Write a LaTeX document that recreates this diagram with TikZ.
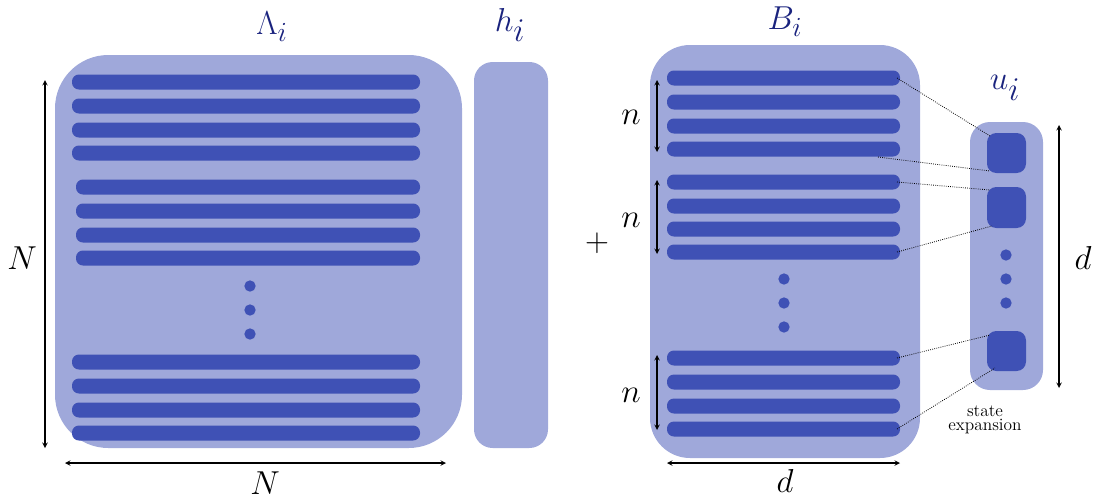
\documentclass[tikz,border=0pt]{standalone}
\begin{document}
\begin{tikzpicture}[x=0.75pt,y=-0.75pt]
\definecolor{lt}{HTML}{9FA8DA}\definecolor{dk}{HTML}{3F51B5}\definecolor{nv}{HTML}{1A237E}
\tikzset{bar/.style={fill=dk,rounded corners=5.2},dt/.style={fill=dk,circle,inner sep=0,minimum size=8.5pt},
 lab/.style={text=nv,font=\fontsize{30}{30}\selectfont},big/.style={font=\fontsize{29}{29}\selectfont},
 arr/.style={<->,>=stealth,thick},
 dl/.style={densely dotted,semithick},sq/.style={fill=dk,rounded corners=7}}
\useasboundingbox (0,0) rectangle (1096,501);
% Lambda
\fill[lt,rounded corners=40] (55,55) rectangle (462,448);
\foreach \y in {82,106,130,153,362,386,410,433}{\fill[bar] (72,\y-7.5) rectangle (420,\y+7.5);}
\foreach \y in {187,211,235,258}{\fill[bar] (76,\y-7.5) rectangle (420,\y+7.5);}
\foreach \y/\n in {286/a,310/b,334/c}{\node[dt] (l\n) at (250,\y) {};}
\node[lab] (lam) at (272,27) {$\Lambda_i$};
% h
\fill[lt,rounded corners=14] (474,62) rectangle (548,448);
\node[lab,font=\fontsize{40}{40}\selectfont] (h) at (510,25) {$h_i$};
\node[font=\fontsize{38}{38}\selectfont] (plus) at (597,243) {$+$};
% N arrows
\coordinate (n1) at (45,80); \coordinate (n2) at (45,448);
\draw[arr] (n1) -- (n2); \node[big] (NL) at (22,258) {$N$};
\coordinate (n3) at (65,463); \coordinate (n4) at (446,463);
\draw[arr] (n3) -- (n4); \node[big] (NB) at (265,483) {$N$};
% B
\fill[lt,rounded corners=30] (650,45) rectangle (920,458);
\foreach \y [count=\i] in {78,102,126,149,182,206,229,252,358,382,406,429}{\fill[bar] (667,\y-7.5) rectangle (900,\y+7.5); \coordinate (b\i) at (897,\y);}
\foreach \y/\n in {279/a,303/b,327/c}{\node[dt] (bd\n) at (784,\y) {};}
\node[lab] (B) at (785,22) {$B_i$};
\foreach \a/\b/\ly [count=\k] in {80/152/117,180/254/220,355/430/395}{
 \coordinate (na\k) at (657,\a); \coordinate (nb\k) at (657,\b);
 \draw[arr] (na\k) -- (nb\k); \node[big] (nl\k) at (631,\ly) {$n$};}
% u
\fill[lt,rounded corners=15] (970,122) rectangle (1043,390);
\fill[sq] (987,133) rectangle (1026,173); \fill[sq] (987,187) rectangle (1026,228); \fill[sq] (987,331) rectangle (1026,371);
\foreach \y/\n in {255/a,279/b,303/c}{\node[dt] (ud\n) at (1006,\y) {};}
\node[lab,font=\fontsize{36}{36}\selectfont] (u) at (1005,88) {$u_i$};
\coordinate (d1) at (1059,125); \coordinate (d2) at (1059,388);
\draw[arr] (d1) -- (d2); \node[big] (dl) at (1083,258) {$d$};
\coordinate (d3) at (667,463); \coordinate (d4) at (900,463);
\draw[arr] (d3) -- (d4); \node[big] (db) at (785,481) {$d$};
% dotted
\coordinate (s1) at (990,136); \coordinate (s2) at (990,171);
\coordinate (s3) at (990,190); \coordinate (s4) at (992,226);
\coordinate (s5) at (990,335); \coordinate (s6) at (995,368);
\coordinate (b4e) at (878,157);
\draw[dl] (b1) -- (s1); \draw[dl] (b4e) -- (s2); \draw[dl] (b5) -- (s3);
\draw[dl] (b8) -- (s4); \draw[dl] (b9) -- (s5); \draw[dl] (b12) -- (s6);
\node[font=\fontsize{13}{13}\selectfont,align=center,inner sep=0] (se) at (985,420) {state\\[-2pt]expansion};
\end{tikzpicture}
\end{document}
